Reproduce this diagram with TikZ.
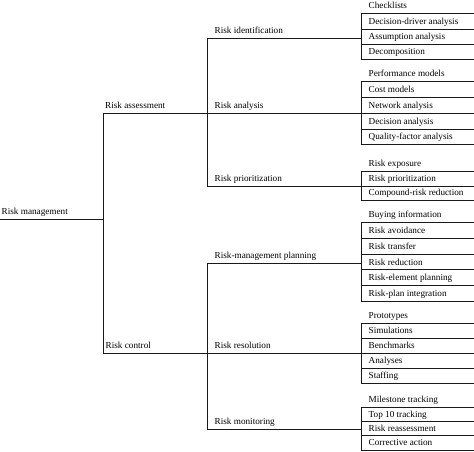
\documentclass[tikz,border=0pt]{standalone}
\usepackage{fontspec}
\setmainfont{Liberation Serif}
\begin{document}
\begin{tikzpicture}[x=1pt,y=-1pt,
  lbl/.style={anchor=base west, inner sep=0pt, font=\fontsize{9.2}{11}\selectfont},
  ln/.style={draw=black!90, line width=0.9pt}]
\useasboundingbox (0,0) rectangle (474,452);
\coordinate (E) at (474,0);
\newcommand\myleaf[3]{%
  \coordinate (#1) at (361,#2);
  \node[lbl] (#1t) at (368.5,#2-4.5) {#3};
  \draw[ln] (#1) -- (#1 -| E);}
\newcommand\mymid[4]{% name, y, text, right-end name
  \coordinate (#1) at (207,#2);
  \node[lbl] (#1t) at (214.5,#2-4.5) {#3};
  \draw[ln] (#1) -- (#1 -| #4);}
% group A
\myleaf{a1}{13.5}{Checklists}
\myleaf{a2}{29}{Decision-driver analysis}
\myleaf{a3}{44}{Assumption analysis}
\myleaf{a4}{59.5}{Decomposition}
\draw[ln] (a1) -- (a4);
% group B
\myleaf{b1}{81}{Performance models}
\myleaf{b2}{97}{Cost models}
\myleaf{b3}{113}{Network analysis}
\myleaf{b4}{129}{Decision analysis}
\myleaf{b5}{144}{Quality-factor analysis}
\draw[ln] (b1) -- (b5);
% group C
\myleaf{c1}{171}{Risk exposure}
\myleaf{c2}{186}{Risk prioritization}
\myleaf{c3}{200}{Compound-risk reduction}
\draw[ln] (c1) -- (c3);
% group D
\myleaf{d1}{222}{Buying information}
\myleaf{d2}{238}{Risk avoidance}
\myleaf{d3}{254}{Risk transfer}
\myleaf{d4}{269.5}{Risk reduction}
\myleaf{d5}{285}{Risk-element planning}
\myleaf{d6}{301}{Risk-plan integration}
\draw[ln] (d1) -- (d6);
% group E
\myleaf{e1}{323}{Prototypes}
\myleaf{e2}{338}{Simulations}
\myleaf{e3}{353}{Benchmarks}
\myleaf{e4}{368}{Analyses}
\myleaf{e5}{383}{Staffing}
\draw[ln] (e1) -- (e5);
% group F
\myleaf{f1}{407}{Milestone tracking}
\myleaf{f2}{421.5}{Top 10 tracking}
\myleaf{f3}{435.5}{Risk reassessment}
\myleaf{f4}{450}{Corrective action}
\draw[ln] (f1) -- (f4);
% level 2
\mymid{ri}{38}{Risk identification}{a1}
\mymid{ran}{113}{Risk analysis}{b1}
\mymid{rp}{186}{Risk prioritization}{c1}
\mymid{rmp}{263}{Risk-management planning}{d1}
\mymid{rr}{353}{Risk resolution}{e1}
\mymid{rmo}{429}{Risk monitoring}{f1}
\draw[ln] (ri) -- (rp);
\draw[ln] (rmp) -- (rmo);
% level 1
\coordinate (ra) at (103,113);
\node[lbl] (rat) at (105,108.5) {Risk assessment};
\draw[ln] (ra) -- (ri |- ra);
\coordinate (rc) at (103,353);
\node[lbl] (rct) at (105.5,348.5) {Risk control};
\draw[ln] (rc) -- (rmp |- rc);
\draw[ln] (ra) -- (rc);
% level 0
\coordinate (rm) at (0,219.5);
\node[lbl] (rmt) at (1.5,214.5) {Risk management};
\draw[ln] (rm) -- (ra |- rm);
\end{tikzpicture}
\end{document}
